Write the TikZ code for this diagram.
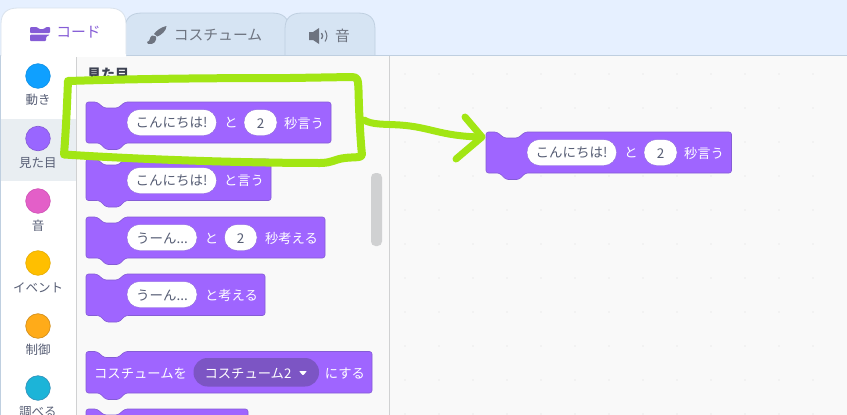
\documentclass[tikz,border=0pt]{standalone}
\usepackage{fontspec}
\setmainfont{Noto Sans CJK JP}
\definecolor{topbg}{HTML}{E6F0FF}
\definecolor{tabbg}{HTML}{D6E4F3}
\definecolor{tabline}{HTML}{BFCFE0}
\definecolor{panel}{HTML}{F9F9F9}
\definecolor{rule}{HTML}{D0D1D2}
\definecolor{selbg}{HTML}{E9EEF2}
\definecolor{blockfill}{HTML}{9F65FF}
\definecolor{blockline}{HTML}{855CD6}
\definecolor{ddfill}{HTML}{7C55C4}
\definecolor{marker}{HTML}{A2E614}
\definecolor{greytext}{HTML}{575E75}
\definecolor{tabtext}{HTML}{6E7480}
\newcommand{\blockshape}[4]{% left, top, right, bottom
  \draw[blockstyle] (#1,#2) -- ++(11,0) -- ++(7,6) -- ++(14,0) -- ++(7,-6) -- (#3,#2)
    -- (#3,#4) -- (#1+39.5,#4)
    -- ++(-6.5,6.5) -- ++(-13,0) -- ++(-6.5,-6.5) -- (#1,#4) -- cycle;}
\newcommand{\tabshape}[6]{% left,top,right,bottom,fill,line
  \draw[fill=#5,draw=#6,line width=.8pt] (#1,#4) -- (#1,#2+16)
    .. controls (#1,#2+5) and (#1+6,#2) .. (#1+17,#2) -- (#3-17,#2)
    .. controls (#3-6,#2) and (#3,#2+5) .. (#3,#2+16) -- (#3,#4);}
\tikzset{
  x=1pt,y=-1pt,
  blockstyle/.style={fill=blockfill,draw=blockline,line width=.6pt,rounded corners=2.5pt},
  pilltext/.style={font=\fontsize{13.5}{15}\selectfont,text=greytext,inner sep=0pt,yshift=-1pt},
  blocktext/.style={font=\fontsize{13.3}{15}\selectfont,text=white,inner sep=0pt,yshift=-.5pt},
  pill/.style={fill=white,draw=blockline,line width=.3pt,rounded corners=12.5pt},
  catlabel/.style={font=\fontsize{12.5}{14}\selectfont,text=greytext,inner sep=0pt},
  catdot/.style={line width=.6pt},
  ink/.style={draw=marker,line width=8pt,line cap=round,line join=round},
  tablabel/.style={font=\fontsize{14.8}{16}\selectfont,inner sep=0pt},
}
\begin{document}
\begin{tikzpicture}
\useasboundingbox (0,0) rectangle (847,415);
% backgrounds
\fill[topbg] (0,0) rectangle (847,56);
\fill[panel] (77,55) rectangle (847,415);
\fill[white] (1,55) rectangle (76,415);
\fill[selbg] (1,119) rectangle (76,181);
\draw[tabline,line width=.8pt] (0.5,55) -- (0.5,415);
\draw[rule,line width=.8pt] (76.5,55) -- (76.5,415);
\draw[rule,line width=.8pt] (389.5,55) -- (389.5,415);
% workspace dots
\foreach \px in {405,439,473,507,541,575,609,643,677,711,745,779,813}
  \foreach \py in {74,108,142,176,210,244,278,312,346,380,414}
    \fill[black!14] (\px,\py) circle[radius=.7];
% tabs
\tabshape{125}{13}{289}{55}{tabbg}{tabline}
\tabshape{285}{13}{375}{55}{tabbg}{tabline}
\draw[tabline,line width=.8pt] (126,55.5) -- (847,55.5);
\tabshape{1}{8}{126}{56}{white}{tabline!60}
\fill[white] (1.5,54) rectangle (125.5,56.5);
% tab icons
\fill[blockline,rounded corners=1pt] (30,27) -- (37,27) -- (39,29) -- (44,29) -- (46,27) -- (50,27) -- (50,33) -- (30,33) -- cycle;
\fill[blockline,rounded corners=1pt] (30,34.5) -- (50,34.5) -- (46,37) -- (46,41) -- (30,41) -- cycle;
\fill[tabtext] (148,44) .. controls (154,45) and (157,41) .. (156,36.5) -- (152,35.5) .. controls (149,37) and (151,41) .. (147,42) -- cycle;
\fill[tabtext] (154,34) .. controls (156,31) and (161,27) .. (166.5,26) .. controls (166.5,31) and (161,35) .. (157.5,36.5) -- cycle;
\fill[tabtext] (309,32) -- (313,32) -- (319,28) -- (319,44) -- (313,40) -- (309,40) -- cycle;
\draw[tabtext,line width=1.3pt] (321.5,33) .. controls (323,35) and (323,37) .. (321.5,39);
\draw[tabtext,line width=1pt] (325,30.5) .. controls (327.5,34) and (327.5,38) .. (325,41.5);
\node[tablabel,text=blockline] (tcode) at (78.5,32.5) {コード};
\node[tablabel,text=tabtext] (tcostume) at (218,35.5) {コスチューム};
\node[tablabel,text=tabtext] (tsound) at (342.5,35.5) {音};
% categories
\foreach \cy/\cf/\cd/\lab/\ly in {76/0FA0FF/0A8FE6/動き/100, 138.5/9966FF/855CD6/見た目/163, 201/E35FC8/CF4FB5/音/226, 263/FFBF00/E6AC00/イベント/288, 326/FFAB19/CF8B17/制御/350, 388/1CB4D8/2E8EB8/調べる/412}{
  \definecolor{cfa}{HTML}{\cf}\definecolor{cdr}{HTML}{\cd}
  \draw[catdot,fill=cfa,draw=cdr] (38,\cy) circle[radius=12.3];
  \node[catlabel] at (38,\ly) {\lab};
}
% palette heading
\node[anchor=west,inner sep=0pt,font=\fontsize{14}{16}\bfseries\selectfont,text=greytext!70!black] (head) at (87,74) {見た目};
% scrollbar
\fill[rule,rounded corners=4.5pt] (371,173) rectangle (382,246);
% blocks
\blockshape{86}{159}{271}{200.5}
\blockshape{86}{102}{331}{143}
\blockshape{86}{217}{325}{258}
\blockshape{86}{274}{265}{315.5}
\blockshape{86}{351.5}{372}{393}
\blockshape{86}{409}{248}{450}
\blockshape{486}{132}{731.5}{173}
% block 1
\draw[pill] (127,109.5) rectangle (216.5,135.5);
\node[pilltext] (a1) at (171.5,122) {こんにちは!};
\node[blocktext] (a2) at (231,122.5) {と};
\draw[pill] (244,109.5) rectangle (277,135.5);
\node[pilltext] (a3) at (260.5,122.5) {2};
\node[blocktext] (a4) at (304,122.5) {秒言う};
% block 2
\draw[pill] (127,167.5) rectangle (216.5,193.5);
\node[pilltext] (b1) at (171.5,180) {こんにちは!};
\node[blocktext] (b2) at (244,180.5) {と言う};
% block 3
\draw[pill] (127,224.5) rectangle (197,250.5);
\node[pilltext] (c1) at (162,238) {うーん...};
\node[blocktext] (c2) at (211.5,238) {と};
\draw[pill] (224.5,224.5) rectangle (257,250.5);
\node[pilltext] (c3) at (240.5,238) {2};
\node[blocktext] (c4) at (291.5,238) {秒考える};
% block 4
\draw[pill] (127,281.5) rectangle (197,307.5);
\node[pilltext] (d1) at (162,295) {うーん...};
\node[blocktext] (d2) at (231.5,295) {と考える};
% block 5
\node[blocktext] (e1) at (140.5,373) {コスチュームを};
\fill[ddfill,rounded corners=14pt] (193.5,358) rectangle (319,386.5);
\node[blocktext] (e2) at (248,373) {コスチューム2};
\fill[white,rounded corners=.8pt] (299,371) -- (307,371) -- (303,375.5) -- cycle;
\node[blocktext] (e3) at (345,373) {にする};
% workspace block
\draw[pill] (527,139.5) rectangle (616.5,165.5);
\node[pilltext] (f1) at (571.5,152) {こんにちは!};
\node[blocktext] (f2) at (631,152.5) {と};
\draw[pill] (644,139.5) rectangle (677,165.5);
\node[pilltext] (f3) at (660.5,152.5) {2};
\node[blocktext] (f4) at (704,152.5) {秒言う};
% marker
\draw[ink] (68,81) .. controls (130,79) and (200,78) .. (290,78)
  -- (352,77) .. controls (358,77) and (358,80) .. (358.5,90)
  .. controls (359,110) and (360,135) .. (362,155)
  .. controls (362,158) and (352,157) .. (345,158)
  .. controls (335,159) and (332,163) .. (320,163)
  .. controls (250,163) and (150,160) .. (64,154.5)
  .. controls (66,130) and (67,105) .. (68,81);
\draw[ink,line width=7pt] (364,120) .. controls (372,125) and (385,124) .. (400,125)
  .. controls (430,127) and (440,136) .. (480,137);
\draw[ink,line width=7pt] (465,117) -- (482,137) -- (456,159);
\end{tikzpicture}
\end{document}
